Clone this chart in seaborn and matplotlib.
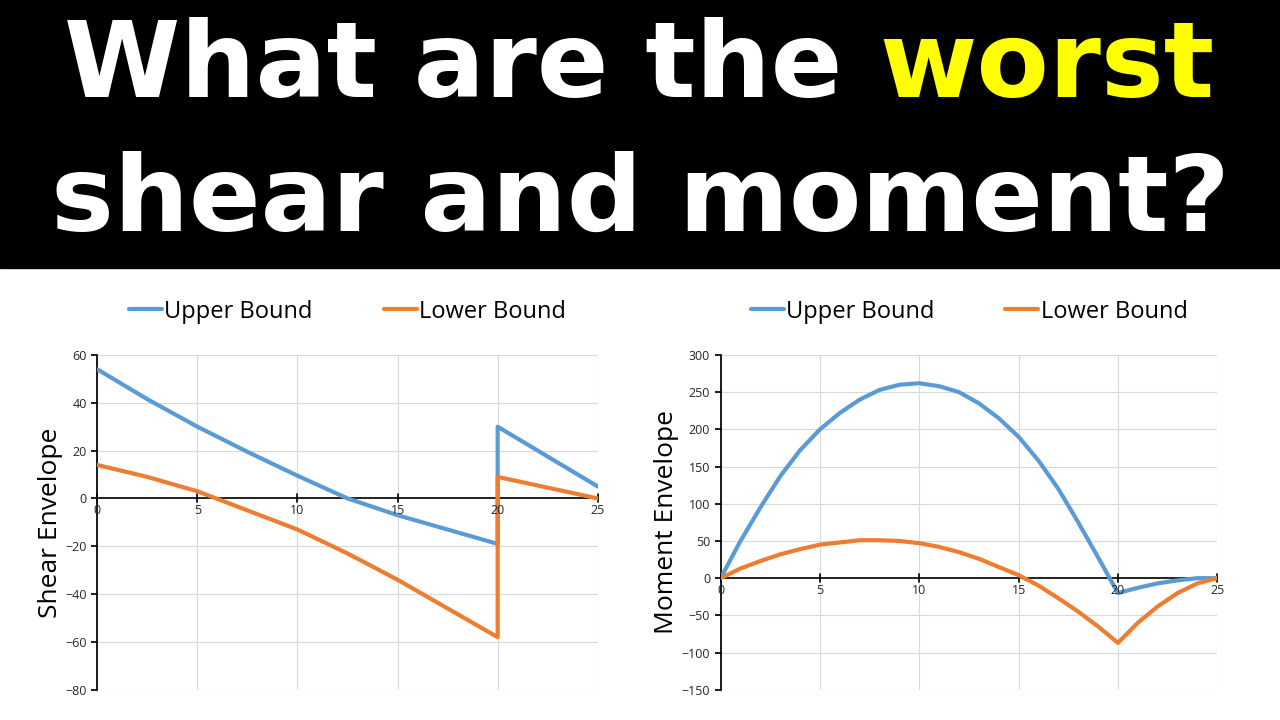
import numpy as np
import seaborn as sns
import matplotlib.pyplot as plt

# shear envelope along the beam (jump at the support x=20)
shear_x = [0, 2.5, 5, 7.5, 10, 12.5, 15, 17.5, 20, 20, 25]
shear_upper = [54, 41.5, 30, 19.5, 9.5, 0, -7, -13, -19, 30, 5]
shear_lower = [14, 9, 3, -5, -13, -23, -34, -46, -58, 9, 0]

# moment envelope
moment_x = list(range(26))
moment_upper = [0, 50, 95, 137, 172, 200, 222, 240, 253, 260, 262, 258, 250, 235, 215,
                190, 158, 120, 75, 28, -20, -13, -7, -3, 0, 0]
moment_lower = [0, 13, 23, 32, 39, 45, 48, 51, 51, 50, 47, 42, 35, 26, 15,
                4, -10, -27, -45, -65, -87, -60, -38, -20, -7, 0]

blue = '#5b9bd5'
orange = '#ed7d31'

sns.set_theme(style='white')
plt.rcParams['font.family'] = ['Open Sans', 'DejaVu Sans']

fig = plt.figure(figsize=(12.8, 7.2), dpi=100)

# black banner with the question
fig.patches.append(plt.Rectangle((0, 0.628), 1, 0.372, transform=fig.transFigure,
                                 color='black', zorder=0))
kw = dict(va='center', fontsize=76, fontweight='heavy', family='DejaVu Sans')
t1 = fig.text(0.05, 0.905, 'What are the ', color='white', **kw)
fig.canvas.draw()
bb = t1.get_window_extent().transformed(fig.transFigure.inverted())
fig.text(bb.x1, 0.905, 'worst', color='#ffff00', **kw)
fig.text(0.5, 0.72, 'shear and moment?', ha='center', color='white', **kw)

ax1 = fig.add_axes([0.076, 0.042, 0.391, 0.465])
ax2 = fig.add_axes([0.563, 0.042, 0.388, 0.465])

def style(ax, ylim, step, ylabel):
    rng = ylim[1] - ylim[0]
    ax.set_xlim(0, 25)
    ax.set_ylim(*ylim)
    ax.set_xticks(range(0, 26, 5))
    ax.set_xticklabels([])
    ax.set_yticks(np.arange(ylim[0], ylim[1] + 1, step))
    ax.grid(True, color='#d9d9d9', lw=0.8)
    for s in ['top', 'right', 'bottom']:
        ax.spines[s].set_visible(False)
    ax.spines['left'].set_color('black')
    ax.axhline(0, color='black', lw=1.2, zorder=1)
    for xv in range(0, 26, 5):
        ax.plot([xv, xv], [-rng * 0.012, rng * 0.012], color='black', lw=1.2, clip_on=False)
        ax.text(xv, -rng * 0.018, str(xv), ha='center', va='top', fontsize=9)
    ax.tick_params(axis='y', left=True, length=4, color='black', labelsize=9)
    ax.tick_params(axis='x', bottom=False)
    ax.set_ylabel(ylabel, fontsize=19, color='black', labelpad=2)
    leg = ax.legend(loc='lower center', bbox_to_anchor=(0.5, 1.03), ncol=2, frameon=False,
                    fontsize=17, handlelength=1.4, columnspacing=3, handletextpad=0.1)
    for t in leg.get_texts():
        t.set_color('black')

sns.lineplot(x=shear_x, y=shear_upper, ax=ax1, color=blue, lw=3, sort=False,
             estimator=None, label='Upper Bound', zorder=3)
sns.lineplot(x=shear_x, y=shear_lower, ax=ax1, color=orange, lw=3, sort=False,
             estimator=None, label='Lower Bound', zorder=3)
sns.lineplot(x=moment_x, y=moment_upper, ax=ax2, color=blue, lw=3, sort=False,
             estimator=None, label='Upper Bound', zorder=3)
sns.lineplot(x=moment_x, y=moment_lower, ax=ax2, color=orange, lw=3, sort=False,
             estimator=None, label='Lower Bound', zorder=3)

style(ax1, (-80, 60), 20, 'Shear Envelope')
style(ax2, (-150, 300), 50, 'Moment Envelope')

fig.savefig('out.png', dpi=100)
